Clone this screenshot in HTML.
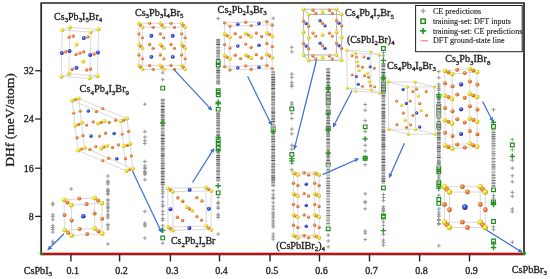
<!DOCTYPE html><html><head><meta charset="utf-8"><style>
html,body{margin:0;padding:0;background:#fff;width:550px;height:279px;overflow:hidden}
svg{display:block}
text{font-family:"Liberation Serif","Times New Roman",serif;fill:#1a1a1a;stroke:#1a1a1a;stroke-width:0.3px}
</style></head><body>
<svg width="550" height="279" viewBox="0 0 550 279">
<defs>
<radialGradient id="gy" cx="40%" cy="38%" r="62%"><stop offset="0" stop-color="#ffffd8"/><stop offset="0.4" stop-color="#f2e62a"/><stop offset="1" stop-color="#bcaa08"/></radialGradient>
<radialGradient id="go" cx="40%" cy="38%" r="62%"><stop offset="0" stop-color="#ffd6b0"/><stop offset="0.4" stop-color="#ee8438"/><stop offset="1" stop-color="#c05418"/></radialGradient>
<radialGradient id="gb" cx="40%" cy="38%" r="62%"><stop offset="0" stop-color="#b8d0ff"/><stop offset="0.4" stop-color="#3452e0"/><stop offset="1" stop-color="#182494"/></radialGradient>
<marker id="ah" viewBox="0 0 10 10" refX="9" refY="5" markerWidth="3.6" markerHeight="3.6" orient="auto-start-reverse"><path d="M0,0 L10,5 L0,10 z" fill="#3b6fd6"/></marker>
</defs>
<rect width="550" height="279" fill="#fff"/>
<path d="M160.85 86.25h3.7v3.7h-3.7zM160.85 236.05h3.7v3.7h-3.7zM216.35 60.65h3.7v3.7h-3.7zM216.35 63.05h3.7v3.7h-3.7zM216.35 88.85h3.7v3.7h-3.7zM216.35 90.45h3.7v3.7h-3.7zM216.35 92.95h3.7v3.7h-3.7zM216.35 107.45h3.7v3.7h-3.7zM216.35 138.95h3.7v3.7h-3.7zM216.35 141.45h3.7v3.7h-3.7zM216.35 146.15h3.7v3.7h-3.7zM216.35 190.95h3.7v3.7h-3.7zM271.35 126.45h3.7v3.7h-3.7zM289.95 107.05h3.7v3.7h-3.7zM289.95 152.55h3.7v3.7h-3.7zM326.35 92.85h3.7v3.7h-3.7zM326.35 95.25h3.7v3.7h-3.7zM326.35 97.65h3.7v3.7h-3.7zM326.35 100.95h3.7v3.7h-3.7zM326.35 109.85h3.7v3.7h-3.7zM326.35 125.95h3.7v3.7h-3.7zM326.35 162.75h3.7v3.7h-3.7zM326.35 226.95h3.7v3.7h-3.7zM363.35 124.95h3.7v3.7h-3.7zM363.35 156.35h3.7v3.7h-3.7zM381.55 46.65h3.7v3.7h-3.7zM381.55 81.05h3.7v3.7h-3.7zM381.55 84.25h3.7v3.7h-3.7zM381.55 88.75h3.7v3.7h-3.7zM381.55 185.95h3.7v3.7h-3.7zM381.55 214.05h3.7v3.7h-3.7zM381.55 215.25h3.7v3.7h-3.7zM436.95 104.65h3.7v3.7h-3.7zM436.95 108.65h3.7v3.7h-3.7zM436.95 113.45h3.7v3.7h-3.7zM436.95 123.15h3.7v3.7h-3.7zM436.95 124.75h3.7v3.7h-3.7zM436.95 166.35h3.7v3.7h-3.7zM436.95 167.95h3.7v3.7h-3.7zM436.95 169.65h3.7v3.7h-3.7zM436.95 180.85h3.7v3.7h-3.7zM436.95 182.95h3.7v3.7h-3.7zM436.95 197.55h3.7v3.7h-3.7zM436.95 201.55h3.7v3.7h-3.7zM491.65 124.65h3.7v3.7h-3.7zM491.65 187.95h3.7v3.7h-3.7zM491.65 199.95h3.7v3.7h-3.7zM491.65 219.65h3.7v3.7h-3.7zM491.65 239.05h3.7v3.7h-3.7zM510.45 143.15h3.7v3.7h-3.7z" stroke="#1f8a1f" stroke-width="1.15" fill="none"/>
<path d="M161 98.8h3.4v87.2h-3.4zM216.5 38.8h3.4v22.2h-3.4zM216.5 67h3.4v18h-3.4zM216.5 111h3.4v27h-3.4zM216.5 151h3.4v31h-3.4zM271.5 71h3.4v116h-3.4zM326.5 67.9h3.4v98.1h-3.4zM381.7 62.9h3.4v121.1h-3.4zM437.1 97h3.4v70h-3.4z" fill="#c2c2c2"/>
<path d="M326.5 166h3.4v60h-3.4zM491.8 128.7h3.4v58.3h-3.4z" fill="#dadada"/>
<path d="M160.7 99.8h4M160.7 153.8h4M160.7 163.34h4M160.7 173.6h4M160.7 176.35h4M160.7 179.46h4M216.2 39.8h4M216.2 50.83h4M216.2 53.24h4M216.2 68h4M216.2 72.56h4M216.2 81.24h4M216.2 116.2h4M216.2 125.22h4M216.2 131.97h4M216.2 135.04h4M216.2 163.64h4M271.2 99.86h4M271.2 111.01h4M271.2 116.12h4M271.2 136.31h4M271.2 164.1h4M271.2 169.8h4M271.2 172.4h4M271.2 175.92h4M326.2 72.34h4M326.2 87.56h4M326.2 110.63h4M326.2 133.95h4M326.2 142.96h4M326.2 169.74h4M326.2 178.17h4M326.2 181.23h4M326.2 185.58h4M326.2 188.19h4M326.2 191.1h4M326.2 215.67h4M381.4 63.9h4M381.4 113.9h4M381.4 121.34h4M381.4 130.01h4M381.4 143.01h4M381.4 149.49h4M381.4 156.55h4M381.4 170.14h4M381.4 176.24h4M436.8 121.64h4M436.8 129.63h4M436.8 135.02h4M436.8 142.91h4M436.8 145.79h4M436.8 151.56h4M436.8 161.01h4M491.5 134.6h4M491.5 136.71h4M491.5 138.88h4M491.5 161.73h4M491.5 166.83h4M491.5 175.14h4M491.5 180.48h4M491.5 183.03h4M491.5 185.93h4" stroke="#777" stroke-width="1.2" fill="none"/>
<path d="M160.7 103.31h4M160.7 117.32h4M160.7 121.84h4M160.7 165.97h4M160.7 184.37h4M216.2 41.87h4M216.2 75.53h4M216.2 77.84h4M216.2 83.08h4M216.2 120.75h4M216.2 122.7h4M216.2 128.61h4M216.2 152h4M216.2 165.45h4M271.2 72h4M271.2 74.51h4M271.2 102.74h4M271.2 104.76h4M271.2 108.35h4M271.2 152.79h4M271.2 158.08h4M271.2 182.48h4M326.2 68.9h4M326.2 89.51h4M326.2 100.91h4M326.2 136.22h4M326.2 193.63h4M326.2 201.68h4M326.2 207.63h4M326.2 210.64h4M326.2 223.5h4M381.4 75.16h4M381.4 79.34h4M381.4 82.93h4M381.4 93.29h4M381.4 153.08h4M436.8 111.81h4M436.8 118.1h4M436.8 139.55h4M436.8 149.76h4M436.8 165.01h4M491.5 132.3h4M491.5 143.72h4M491.5 145.82h4M491.5 153.71h4M491.5 158.64h4M491.5 164.72h4M491.5 177.89h4" stroke="#888" stroke-width="1.2" fill="none"/>
<path d="M160.7 106.28h4M160.7 109.56h4M160.7 112.01h4M160.7 135.06h4M160.7 138.62h4M160.7 155.78h4M160.7 182.36h4M216.2 44.43h4M216.2 59.35h4M216.2 70.65h4M216.2 114.01h4M216.2 177.58h4M271.2 77.45h4M271.2 82.19h4M271.2 84.6h4M271.2 88.66h4M271.2 112.97h4M271.2 133.25h4M271.2 160.52h4M271.2 177.87h4M326.2 75.58h4M326.2 78.88h4M326.2 92.15h4M326.2 98.84h4M326.2 114.75h4M326.2 117.98h4M326.2 139.52h4M326.2 156.98h4M381.4 72.64h4M381.4 87.79h4M381.4 90.89h4M381.4 95.89h4M381.4 104.83h4M381.4 111.95h4M381.4 131.97h4M381.4 137.78h4M381.4 140.06h4M381.4 146.88h4M381.4 159.47h4M381.4 181.13h4M436.8 98h4M436.8 108.83h4M436.8 137.59h4M436.8 157.48h4" stroke="#555" stroke-width="1.2" fill="none"/>
<path d="M160.7 115.45h4M160.7 119.87h4M160.7 125.76h4M160.7 141.42h4M160.7 143.74h4M160.7 148.87h4M160.7 168.42h4M160.7 171.65h4M216.2 118.24h4M216.2 155.52h4M216.2 157.47h4M216.2 159.69h4M216.2 171.03h4M271.2 79.59h4M271.2 94.01h4M271.2 96.92h4M271.2 118.78h4M271.2 121.51h4M271.2 139.04h4M271.2 141.48h4M271.2 146.63h4M271.2 149.54h4M271.2 155.92h4M271.2 166.75h4M271.2 180.07h4M326.2 82.32h4M326.2 84.98h4M326.2 95.25h4M326.2 104.16h4M326.2 120.73h4M326.2 123.31h4M326.2 126.6h4M326.2 128.45h4M326.2 130.78h4M326.2 154.23h4M326.2 160.35h4M326.2 163.24h4M381.4 65.96h4M381.4 69.5h4M381.4 77.25h4M381.4 85.34h4M381.4 108.4h4M381.4 115.78h4M381.4 118.06h4M381.4 135.21h4M381.4 144.96h4M381.4 162.22h4M381.4 165.71h4M381.4 167.98h4M381.4 178.84h4M436.8 102.62h4M436.8 105.35h4M436.8 124.68h4M436.8 127.1h4M436.8 133.19h4M436.8 147.67h4M436.8 163.21h4" stroke="#666" stroke-width="1.2" fill="none"/>
<path d="M160.7 123.74h4M160.7 128.7h4M160.7 132.21h4M160.7 146.51h4M160.7 150.85h4M160.7 158.6h4M160.7 160.77h4M216.2 47.61h4M216.2 56.11h4M216.2 112h4M216.2 161.51h4M216.2 168.21h4M216.2 174.07h4M216.2 180.21h4M271.2 86.58h4M271.2 92.16h4M271.2 125.02h4M271.2 127.47h4M271.2 130.92h4M271.2 144.24h4M271.2 185.41h4M326.2 107.06h4M326.2 112.71h4M326.2 146.37h4M326.2 149.64h4M326.2 152.2h4M326.2 172.41h4M326.2 183.53h4M326.2 204.52h4M326.2 220.56h4M381.4 98.38h4M381.4 101.3h4M381.4 123.87h4M381.4 127.32h4M381.4 173.07h4M436.8 99.83h4M436.8 114.79h4M436.8 155.09h4M491.5 129.7h4M491.5 141.36h4M491.5 168.99h4" stroke="#999" stroke-width="1.2" fill="none"/>
<path d="M326.2 167h4M326.2 175.23h4M326.2 196.46h4M326.2 199.07h4M326.2 213.14h4M326.2 218.47h4M491.5 148.61h4M491.5 151.53h4M491.5 155.76h4M491.5 172.14h4" stroke="#aaa" stroke-width="1.2" fill="none"/>
<path d="M50.9 203.3h3.8M52.8 201.4v3.8M50.9 204.9h3.8M52.8 203v3.8M50.9 214.7h3.8M52.8 212.8v3.8M50.9 216.7h3.8M52.8 214.8v3.8M50.9 219.7h3.8M52.8 217.8v3.8M50.9 225.6h3.8M52.8 223.7v3.8M50.9 227.5h3.8M52.8 225.6v3.8M50.9 229.5h3.8M52.8 227.6v3.8M50.9 232.1h3.8M52.8 230.2v3.8M50.9 241.4h3.8M52.8 239.5v3.8M50.9 243.3h3.8M52.8 241.4v3.8M69.3 189h3.8M71.2 187.1v3.8M106 176h3.8M107.9 174.1v3.8M106 181.1h3.8M107.9 179.2v3.8M106 182.4h3.8M107.9 180.5v3.8M106 184h3.8M107.9 182.1v3.8M106 189.2h3.8M107.9 187.3v3.8M106 190.5h3.8M107.9 188.6v3.8M106 191.6h3.8M107.9 189.7v3.8M106 193.2h3.8M107.9 191.3v3.8M106 194.4h3.8M107.9 192.5v3.8M106 199.7h3.8M107.9 197.8v3.8M106 200.8h3.8M107.9 198.9v3.8M106 203.7h3.8M107.9 201.8v3.8M106 206.1h3.8M107.9 204.2v3.8M106 207.4h3.8M107.9 205.5v3.8M106 208.2h3.8M107.9 206.3v3.8M106 211.1h3.8M107.9 209.2v3.8M106 214.4h3.8M107.9 212.5v3.8M106 216h3.8M107.9 214.1v3.8M106 217.9h3.8M107.9 216v3.8M106 224.4h3.8M107.9 222.5v3.8M106 226h3.8M107.9 224.1v3.8M106 228.9h3.8M107.9 227v3.8M106 244h3.8M107.9 242.1v3.8M143 104.2h3.8M144.9 102.3v3.8M143 131.7h3.8M144.9 129.8v3.8M143 137h3.8M144.9 135.1v3.8M143 140.7h3.8M144.9 138.8v3.8M143 143.5h3.8M144.9 141.6v3.8M143 161.5h3.8M144.9 159.6v3.8M143 165.8h3.8M144.9 163.9v3.8M143 167.9h3.8M144.9 166v3.8M143 168.7h3.8M144.9 166.8v3.8M143 171.5h3.8M144.9 169.6v3.8M143 172.7h3.8M144.9 170.8v3.8M143 173.9h3.8M144.9 172v3.8M143 174.4h3.8M144.9 172.5v3.8M143 179.8h3.8M144.9 177.9v3.8M143 211.4h3.8M144.9 209.5v3.8M143 223.1h3.8M144.9 221.2v3.8M143 224.7h3.8M144.9 222.8v3.8M143 226h3.8M144.9 224.1v3.8M143 238.1h3.8M144.9 236.2v3.8M160.8 72.9h3.8M162.7 71v3.8M160.8 79.7h3.8M162.7 77.8v3.8M160.8 187.3h3.8M162.7 185.4v3.8M160.8 189.7h3.8M162.7 187.8v3.8M160.8 191.8h3.8M162.7 189.9v3.8M160.8 193.7h3.8M162.7 191.8v3.8M160.8 197h3.8M162.7 195.1v3.8M160.8 201.6h3.8M162.7 199.7v3.8M160.8 204.8h3.8M162.7 202.9v3.8M160.8 206.5h3.8M162.7 204.6v3.8M160.8 211.3h3.8M162.7 209.4v3.8M160.8 214.5h3.8M162.7 212.6v3.8M160.8 218.5h3.8M162.7 216.6v3.8M160.8 220.2h3.8M162.7 218.3v3.8M160.8 225.8h3.8M162.7 223.9v3.8M160.8 243.2h3.8M162.7 241.3v3.8M216.3 18.4h3.8M218.2 16.5v3.8M216.3 197.4h3.8M218.2 195.5v3.8M216.3 202.2h3.8M218.2 200.3v3.8M216.3 203.5h3.8M218.2 201.6v3.8M216.3 207h3.8M218.2 205.1v3.8M216.3 208.6h3.8M218.2 206.7v3.8M216.3 214.3h3.8M218.2 212.4v3.8M216.3 215.9h3.8M218.2 214v3.8M216.3 217.5h3.8M218.2 215.6v3.8M216.3 234.1h3.8M218.2 232.2v3.8M271.3 18.3h3.8M273.2 16.4v3.8M271.3 190.6h3.8M273.2 188.7v3.8M271.3 194.7h3.8M273.2 192.8v3.8M271.3 197.4h3.8M273.2 195.5v3.8M271.3 198.7h3.8M273.2 196.8v3.8M271.3 202.7h3.8M273.2 200.8v3.8M271.3 206.3h3.8M273.2 204.4v3.8M271.3 209h3.8M273.2 207.1v3.8M271.3 212.5h3.8M273.2 210.6v3.8M271.3 214.3h3.8M273.2 212.4v3.8M271.3 216.1h3.8M273.2 214.2v3.8M271.3 217.9h3.8M273.2 216v3.8M271.3 220.6h3.8M273.2 218.7v3.8M271.3 222.9h3.8M273.2 221v3.8M271.3 225.1h3.8M273.2 223.2v3.8M271.3 226.9h3.8M273.2 225v3.8M271.3 234h3.8M273.2 232.1v3.8M271.3 236.7h3.8M273.2 234.8v3.8M271.3 239.1h3.8M273.2 237.2v3.8M289.9 47.3h3.8M291.8 45.4v3.8M289.9 51.8h3.8M291.8 49.9v3.8M289.9 74h3.8M291.8 72.1v3.8M289.9 77.4h3.8M291.8 75.5v3.8M289.9 82.3h3.8M291.8 80.4v3.8M289.9 85h3.8M291.8 83.1v3.8M289.9 86.6h3.8M291.8 84.7v3.8M289.9 102.7h3.8M291.8 100.8v3.8M289.9 104.8h3.8M291.8 102.9v3.8M289.9 113.4h3.8M291.8 111.5v3.8M289.9 118.5h3.8M291.8 116.6v3.8M289.9 129.1h3.8M291.8 127.2v3.8M289.9 133.9h3.8M291.8 132v3.8M289.9 145.2h3.8M291.8 143.3v3.8M289.9 149.3h3.8M291.8 147.4v3.8M289.9 163.5h3.8M291.8 161.6v3.8M289.9 169.7h3.8M291.8 167.8v3.8M326.3 235.1h3.8M328.2 233.2v3.8M326.3 241h3.8M328.2 239.1v3.8M326.3 246.8h3.8M328.2 244.9v3.8M363.3 104.5h3.8M365.2 102.6v3.8M363.3 110.2h3.8M365.2 108.3v3.8M363.3 120.6h3.8M365.2 118.7v3.8M363.3 131.6h3.8M365.2 129.7v3.8M363.3 145.3h3.8M365.2 143.4v3.8M363.3 151h3.8M365.2 149.1v3.8M363.3 164.7h3.8M365.2 162.8v3.8M363.3 193.8h3.8M365.2 191.9v3.8M363.3 201.8h3.8M365.2 199.9v3.8M363.3 202.6h3.8M365.2 200.7v3.8M363.3 208.8h3.8M365.2 206.9v3.8M363.3 231.1h3.8M365.2 229.2v3.8M363.3 233.3h3.8M365.2 231.4v3.8M363.3 239.6h3.8M365.2 237.7v3.8M381.5 52.6h3.8M383.4 50.7v3.8M381.5 55.8h3.8M383.4 53.9v3.8M381.5 194.6h3.8M383.4 192.7v3.8M381.5 197.5h3.8M383.4 195.6v3.8M381.5 200.7h3.8M383.4 198.8v3.8M381.5 206.7h3.8M383.4 204.8v3.8M381.5 208.3h3.8M383.4 206.4v3.8M381.5 209.2h3.8M383.4 207.3v3.8M381.5 210.7h3.8M383.4 208.8v3.8M381.5 211.4h3.8M383.4 209.5v3.8M381.5 221.9h3.8M383.4 220v3.8M381.5 225.6h3.8M383.4 223.7v3.8M381.5 234.5h3.8M383.4 232.6v3.8M381.5 240.1h3.8M383.4 238.2v3.8M381.5 242.4h3.8M383.4 240.5v3.8M381.5 245.1h3.8M383.4 243.2v3.8M436.9 71.6h3.8M438.8 69.7v3.8M436.9 77.7h3.8M438.8 75.8v3.8M436.9 84.2h3.8M438.8 82.3v3.8M436.9 86.6h3.8M438.8 84.7v3.8M436.9 88.7h3.8M438.8 86.8v3.8M436.9 90.3h3.8M438.8 88.4v3.8M436.9 175h3.8M438.8 173.1v3.8M436.9 177h3.8M438.8 175.1v3.8M436.9 179h3.8M438.8 177.1v3.8M436.9 195.3h3.8M438.8 193.4v3.8M436.9 209h3.8M438.8 207.1v3.8M436.9 212.3h3.8M438.8 210.4v3.8M436.9 214.7h3.8M438.8 212.8v3.8M436.9 216.3h3.8M438.8 214.4v3.8M436.9 219.5h3.8M438.8 217.6v3.8M436.9 220.3h3.8M438.8 218.4v3.8M436.9 223.5h3.8M438.8 221.6v3.8M436.9 224.3h3.8M438.8 222.4v3.8M436.9 245.7h3.8M438.8 243.8v3.8M491.6 109.7h3.8M493.5 107.8v3.8M491.6 195.5h3.8M493.5 193.6v3.8M491.6 197.9h3.8M493.5 196v3.8M491.6 226.9h3.8M493.5 225v3.8M491.6 229.6h3.8M493.5 227.7v3.8M510.4 139.4h3.8M512.3 137.5v3.8M510.4 149.8h3.8M512.3 147.9v3.8M510.4 160.3h3.8M512.3 158.4v3.8M510.4 168.1h3.8M512.3 166.2v3.8M510.4 175.8h3.8M512.3 173.9v3.8M510.4 181.8h3.8M512.3 179.9v3.8M510.4 192.3h3.8M512.3 190.4v3.8M510.4 196.3h3.8M512.3 194.4v3.8M510.4 209h3.8M512.3 207.1v3.8M510.4 211.6h3.8M512.3 209.7v3.8M510.4 242.1h3.8M512.3 240.2v3.8" stroke="#959595" stroke-width="0.95" fill="none"/>
<path d="M69.8 27.4L98.5 29.3M62.2 30.1L90.9 32M69.8 27.4L62.2 30.1M98.5 29.3L97.5 75.9M90.9 32L89.9 78.6M98.5 29.3L90.9 32M97.5 75.9L68.9 73.7M89.9 78.6L61.3 76.4M97.5 75.9L89.9 78.6M68.9 73.7L69.8 27.4M61.3 76.4L62.2 30.1M68.9 73.7L61.3 76.4M72.1 100.4L120.8 121M78.6 98.5L127 118.6M72.1 100.4L78.6 98.5M120.8 121L127 118.6M78.1 150.6L126.5 171.1M84.5 147.7L132.9 168.7M78.1 150.6L84.5 147.7M126.5 171.1L132.9 168.7M72.1 100.4L78.1 150.6M78.6 98.5L84.5 147.7M120.8 121L126.5 171.1M127 118.6L132.9 168.7M138.9 23.3L181.6 23.3M142.4 27.2L185.1 27.2M138.9 23.3L142.4 27.2M181.6 23.3L181.6 65.4M185.1 27.2L185.1 69.3M181.6 23.3L185.1 27.2M181.6 65.4L138.9 65.4M185.1 69.3L142.4 69.3M181.6 65.4L185.1 69.3M138.9 65.4L138.9 23.3M142.4 69.3L142.4 27.2M138.9 65.4L142.4 69.3M224.5 22.8L266.8 21.62M229.9 26.1L272.2 24.92M224.5 22.8L229.9 26.1M266.8 21.62L266.8 65.32M272.2 24.92L272.2 68.62M266.8 21.62L272.2 24.92M266.8 65.32L224.5 66.5M272.2 68.62L229.9 69.8M266.8 65.32L272.2 68.62M224.5 66.5L224.5 22.8M229.9 69.8L229.9 26.1M224.5 66.5L229.9 69.8M346.8 50.2L370.6 51.8M347.2 88L371.2 89.9M346.8 50.2L347.2 88M370.6 51.8L379.3 54.8M371.2 89.9L379.6 93M370.6 51.8L371.2 89.9M379.3 54.8L355.6 53.2M379.6 93L355.8 91M379.3 54.8L379.6 93M355.6 53.2L346.8 50.2M355.8 91L347.2 88M355.6 53.2L355.8 91M388.1 81.9L415 81.9M388.8 129.3L415.6 129.3M388.1 81.9L388.8 129.3M415 81.9L434.3 86.8M415.6 129.3L435.1 134.1M415 81.9L415.6 129.3M434.3 86.8L407.4 87M435.1 134.1L408.3 134.3M434.3 86.8L435.1 134.1M407.4 87L388.1 81.9M408.3 134.3L388.8 129.3M407.4 87L408.3 134.3M444.8 70.7L469.6 68.8M452.1 73.9L476.9 72M444.8 70.7L452.1 73.9M469.6 68.8L469.9 143.6M476.9 72L477.2 146.8M469.6 68.8L476.9 72M469.9 143.6L445.2 145.4M477.2 146.8L452.5 148.6M469.9 143.6L477.2 146.8M445.2 145.4L444.8 70.7M452.5 148.6L452.1 73.9M445.2 145.4L452.5 148.6M444.5 186.7L480.3 186.7M449.5 192L485.3 192M444.5 186.7L449.5 192M480.3 186.7L480.3 222.2M485.3 192L485.3 227.5M480.3 186.7L485.3 192M480.3 222.2L444.5 222.2M485.3 227.5L449.5 227.5M480.3 222.2L485.3 227.5M444.5 222.2L444.5 186.7M449.5 227.5L449.5 192M444.5 222.2L449.5 227.5M64 199.8L94.6 197.9M71.3 205.1L101.9 203.2M64 199.8L71.3 205.1M94.6 197.9L94.6 228.5M101.9 203.2L101.9 233.8M94.6 197.9L101.9 203.2M94.6 228.5L64.5 230.1M101.9 233.8L71.8 235.4M94.6 228.5L101.9 233.8M64.5 230.1L64 199.8M71.8 235.4L71.3 205.1M64.5 230.1L71.8 235.4M167.8 188.3L205.9 187.5M172.8 191.7L210.9 190.9M167.8 188.3L172.8 191.7M205.9 187.5L206.2 225.9M210.9 190.9L211.2 229.3M205.9 187.5L210.9 190.9M206.2 225.9L168 227M211.2 229.3L173 230.4M206.2 225.9L211.2 229.3M168 227L167.8 188.3M173 230.4L172.8 191.7M168 227L173 230.4M293.4 172.7L314.7 172.7M297.8 174.9L319.1 174.9M293.4 172.7L297.8 174.9M314.7 172.7L314.7 235.5M319.1 174.9L319.1 237.7M314.7 172.7L319.1 174.9M314.7 235.5L293.4 235.5M319.1 237.7L297.8 237.7M314.7 235.5L319.1 237.7M293.4 235.5L293.4 172.7M297.8 237.7L297.8 174.9M293.4 235.5L297.8 237.7" stroke="#cfcfcf" stroke-width="0.8" fill="none"/>
<path d="M303.5 9.2L336.5 9.2M308.7 14.5L341.7 14.5M303.5 9.2L308.7 14.5M336.5 9.2L336.4 55M341.7 14.5L341.6 60.3M336.5 9.2L341.7 14.5M336.4 55L303.3 55M341.6 60.3L308.5 60.3M336.4 55L341.6 60.3M303.3 55L303.5 9.2M308.5 60.3L308.7 14.5M303.3 55L308.5 60.3" stroke="#a2a2a2" stroke-width="0.8" fill="none"/>
<circle cx="62.2" cy="30.1" r="2" fill="url(#gy)"/>
<circle cx="69.8" cy="27.4" r="2" fill="url(#gy)"/>
<circle cx="90.7" cy="31.9" r="2" fill="url(#gy)"/>
<circle cx="98.5" cy="29.3" r="2" fill="url(#gy)"/>
<circle cx="69.1" cy="37.1" r="1.7" fill="url(#go)"/>
<circle cx="73.2" cy="36" r="1.7" fill="url(#go)"/>
<circle cx="83.8" cy="38.1" r="2" fill="url(#gb)"/>
<circle cx="87.8" cy="36.9" r="1.7" fill="url(#go)"/>
<circle cx="76.5" cy="44.6" r="2" fill="url(#gy)"/>
<circle cx="61.8" cy="53.1" r="2" fill="url(#gb)"/>
<circle cx="65.7" cy="51.8" r="1.7" fill="url(#go)"/>
<circle cx="69.5" cy="50.9" r="2" fill="url(#gb)"/>
<circle cx="76" cy="54.4" r="1.7" fill="url(#go)"/>
<circle cx="79.9" cy="53.1" r="1.7" fill="url(#go)"/>
<circle cx="83.7" cy="51.8" r="1.7" fill="url(#go)"/>
<circle cx="90.2" cy="55" r="2" fill="url(#gb)"/>
<circle cx="94.1" cy="54" r="1.7" fill="url(#go)"/>
<circle cx="97.9" cy="52.5" r="2" fill="url(#gb)"/>
<circle cx="83.1" cy="61.5" r="2" fill="url(#gy)"/>
<circle cx="72.1" cy="69.2" r="1.7" fill="url(#go)"/>
<circle cx="76.4" cy="67.7" r="2" fill="url(#gb)"/>
<circle cx="86.7" cy="69.9" r="1.7" fill="url(#go)"/>
<circle cx="90.6" cy="69" r="1.7" fill="url(#go)"/>
<circle cx="61.4" cy="76.7" r="2" fill="url(#gy)"/>
<circle cx="68.9" cy="73.7" r="2" fill="url(#gy)"/>
<circle cx="89.8" cy="78" r="2" fill="url(#gy)"/>
<circle cx="97.5" cy="75.9" r="2" fill="url(#gy)"/>
<circle cx="72.1" cy="100.4" r="2" fill="url(#gy)"/>
<circle cx="75.7" cy="99.3" r="1.6" fill="url(#go)"/>
<circle cx="78.6" cy="98.5" r="2" fill="url(#gy)"/>
<circle cx="120.8" cy="121" r="2" fill="url(#gy)"/>
<circle cx="127" cy="118.6" r="2" fill="url(#gy)"/>
<circle cx="75.4" cy="125.5" r="2" fill="url(#gy)"/>
<circle cx="81.8" cy="122.6" r="2" fill="url(#gy)"/>
<circle cx="97.9" cy="123.5" r="2" fill="url(#gy)"/>
<circle cx="104.4" cy="121" r="2" fill="url(#gy)"/>
<circle cx="73.7" cy="113" r="1.6" fill="url(#go)"/>
<circle cx="80.2" cy="111" r="1.6" fill="url(#go)"/>
<circle cx="96.3" cy="111.4" r="1.6" fill="url(#go)"/>
<circle cx="102.8" cy="108.5" r="1.6" fill="url(#go)"/>
<circle cx="78.6" cy="124.3" r="1.6" fill="url(#go)"/>
<circle cx="86.6" cy="125" r="1.6" fill="url(#go)"/>
<circle cx="93.1" cy="121.8" r="1.6" fill="url(#go)"/>
<circle cx="101.2" cy="122.3" r="1.6" fill="url(#go)"/>
<circle cx="109.2" cy="122.3" r="1.6" fill="url(#go)"/>
<circle cx="115.7" cy="120.2" r="1.6" fill="url(#go)"/>
<circle cx="123.7" cy="120.2" r="1.6" fill="url(#go)"/>
<circle cx="88.3" cy="111" r="1.8" fill="url(#gb)"/>
<circle cx="77" cy="137.7" r="1.6" fill="url(#go)"/>
<circle cx="83" cy="135.6" r="1.6" fill="url(#go)"/>
<circle cx="99.5" cy="136.1" r="1.6" fill="url(#go)"/>
<circle cx="105.5" cy="133.2" r="1.6" fill="url(#go)"/>
<circle cx="122.1" cy="134" r="1.6" fill="url(#go)"/>
<circle cx="128.6" cy="131.3" r="1.6" fill="url(#go)"/>
<circle cx="91" cy="136.1" r="1.8" fill="url(#gb)"/>
<circle cx="114.1" cy="133.5" r="1.8" fill="url(#gb)"/>
<circle cx="81.3" cy="149" r="1.6" fill="url(#go)"/>
<circle cx="89.9" cy="149.4" r="1.6" fill="url(#go)"/>
<circle cx="95.8" cy="146.6" r="1.6" fill="url(#go)"/>
<circle cx="103.9" cy="146.9" r="1.6" fill="url(#go)"/>
<circle cx="112.5" cy="147.4" r="1.6" fill="url(#go)"/>
<circle cx="118.4" cy="144.8" r="1.6" fill="url(#go)"/>
<circle cx="127.3" cy="145.3" r="1.6" fill="url(#go)"/>
<circle cx="78.1" cy="150.6" r="2" fill="url(#gy)"/>
<circle cx="84.5" cy="147.7" r="2" fill="url(#gy)"/>
<circle cx="101.2" cy="148.5" r="2" fill="url(#gy)"/>
<circle cx="107.1" cy="145.8" r="2" fill="url(#gy)"/>
<circle cx="123.7" cy="146.1" r="2" fill="url(#gy)"/>
<circle cx="130.2" cy="143.7" r="2" fill="url(#gy)"/>
<circle cx="102.8" cy="160.6" r="1.6" fill="url(#go)"/>
<circle cx="108.7" cy="158.2" r="1.6" fill="url(#go)"/>
<circle cx="125.4" cy="158.7" r="1.6" fill="url(#go)"/>
<circle cx="131.3" cy="155.8" r="1.6" fill="url(#go)"/>
<circle cx="129.7" cy="169.5" r="1.6" fill="url(#go)"/>
<circle cx="116.8" cy="158.7" r="1.8" fill="url(#gb)"/>
<circle cx="126.5" cy="171.1" r="2" fill="url(#gy)"/>
<circle cx="132.9" cy="168.7" r="2" fill="url(#gy)"/>
<circle cx="138.9" cy="23.3" r="1.8" fill="url(#gy)"/>
<circle cx="140.65" cy="25.25" r="1.55" fill="url(#go)"/>
<circle cx="142.4" cy="27.2" r="1.8" fill="url(#gy)"/>
<circle cx="149.6" cy="23.3" r="1.55" fill="url(#go)"/>
<circle cx="153.1" cy="27.2" r="1.55" fill="url(#go)"/>
<circle cx="138.9" cy="33.85" r="1.55" fill="url(#go)"/>
<circle cx="142.4" cy="37.75" r="1.55" fill="url(#go)"/>
<circle cx="151.35" cy="35.8" r="1.95" fill="url(#gb)"/>
<circle cx="160.3" cy="23.3" r="1.8" fill="url(#gy)"/>
<circle cx="162.05" cy="25.25" r="1.55" fill="url(#go)"/>
<circle cx="163.8" cy="27.2" r="1.8" fill="url(#gy)"/>
<circle cx="170.95" cy="23.3" r="1.55" fill="url(#go)"/>
<circle cx="174.45" cy="27.2" r="1.55" fill="url(#go)"/>
<circle cx="160.3" cy="33.85" r="1.55" fill="url(#go)"/>
<circle cx="163.8" cy="37.75" r="1.55" fill="url(#go)"/>
<circle cx="172.7" cy="35.8" r="1.95" fill="url(#gb)"/>
<circle cx="181.6" cy="23.3" r="1.8" fill="url(#gy)"/>
<circle cx="183.35" cy="25.25" r="1.55" fill="url(#go)"/>
<circle cx="185.1" cy="27.2" r="1.8" fill="url(#gy)"/>
<circle cx="181.6" cy="33.85" r="1.55" fill="url(#go)"/>
<circle cx="185.1" cy="37.75" r="1.55" fill="url(#go)"/>
<circle cx="138.9" cy="44.4" r="1.8" fill="url(#gy)"/>
<circle cx="140.65" cy="46.35" r="1.55" fill="url(#go)"/>
<circle cx="142.4" cy="48.3" r="1.8" fill="url(#gy)"/>
<circle cx="149.6" cy="44.4" r="1.55" fill="url(#go)"/>
<circle cx="153.1" cy="48.3" r="1.55" fill="url(#go)"/>
<circle cx="138.9" cy="54.9" r="1.55" fill="url(#go)"/>
<circle cx="142.4" cy="58.8" r="1.55" fill="url(#go)"/>
<circle cx="151.35" cy="56.85" r="1.95" fill="url(#gb)"/>
<circle cx="160.3" cy="44.4" r="1.8" fill="url(#gy)"/>
<circle cx="162.05" cy="46.35" r="1.55" fill="url(#go)"/>
<circle cx="163.8" cy="48.3" r="1.8" fill="url(#gy)"/>
<circle cx="170.95" cy="44.4" r="1.55" fill="url(#go)"/>
<circle cx="174.45" cy="48.3" r="1.55" fill="url(#go)"/>
<circle cx="160.3" cy="54.9" r="1.55" fill="url(#go)"/>
<circle cx="163.8" cy="58.8" r="1.55" fill="url(#go)"/>
<circle cx="172.7" cy="56.85" r="1.95" fill="url(#gb)"/>
<circle cx="181.6" cy="44.4" r="1.8" fill="url(#gy)"/>
<circle cx="183.35" cy="46.35" r="1.55" fill="url(#go)"/>
<circle cx="185.1" cy="48.3" r="1.8" fill="url(#gy)"/>
<circle cx="181.6" cy="54.9" r="1.55" fill="url(#go)"/>
<circle cx="185.1" cy="58.8" r="1.55" fill="url(#go)"/>
<circle cx="138.9" cy="65.4" r="1.8" fill="url(#gy)"/>
<circle cx="140.65" cy="67.35" r="1.55" fill="url(#go)"/>
<circle cx="142.4" cy="69.3" r="1.8" fill="url(#gy)"/>
<circle cx="149.6" cy="65.4" r="1.55" fill="url(#go)"/>
<circle cx="153.1" cy="69.3" r="1.55" fill="url(#go)"/>
<circle cx="160.3" cy="65.4" r="1.8" fill="url(#gy)"/>
<circle cx="162.05" cy="67.35" r="1.55" fill="url(#go)"/>
<circle cx="163.8" cy="69.3" r="1.8" fill="url(#gy)"/>
<circle cx="170.95" cy="65.4" r="1.55" fill="url(#go)"/>
<circle cx="174.45" cy="69.3" r="1.55" fill="url(#go)"/>
<circle cx="181.6" cy="65.4" r="1.8" fill="url(#gy)"/>
<circle cx="183.35" cy="67.35" r="1.55" fill="url(#go)"/>
<circle cx="185.1" cy="69.3" r="1.8" fill="url(#gy)"/>
<circle cx="224.5" cy="22.8" r="1.6" fill="url(#go)"/>
<circle cx="229.9" cy="26.1" r="1.6" fill="url(#go)"/>
<circle cx="237.8" cy="24.15" r="1.75" fill="url(#gb)"/>
<circle cx="245.7" cy="22.21" r="1.6" fill="url(#go)"/>
<circle cx="251.1" cy="25.51" r="1.6" fill="url(#go)"/>
<circle cx="258.95" cy="23.56" r="1.75" fill="url(#gb)"/>
<circle cx="266.8" cy="21.62" r="1.6" fill="url(#go)"/>
<circle cx="272.2" cy="24.92" r="1.6" fill="url(#go)"/>
<circle cx="224.5" cy="34" r="1.9" fill="url(#gy)"/>
<circle cx="227.2" cy="35.65" r="1.6" fill="url(#go)"/>
<circle cx="229.9" cy="37.3" r="1.9" fill="url(#gy)"/>
<circle cx="235.1" cy="33.7" r="1.6" fill="url(#go)"/>
<circle cx="240.5" cy="37" r="1.6" fill="url(#go)"/>
<circle cx="245.7" cy="33.41" r="1.9" fill="url(#gy)"/>
<circle cx="248.4" cy="35.06" r="1.6" fill="url(#go)"/>
<circle cx="251.1" cy="36.71" r="1.9" fill="url(#gy)"/>
<circle cx="256.25" cy="33.11" r="1.6" fill="url(#go)"/>
<circle cx="261.65" cy="36.41" r="1.6" fill="url(#go)"/>
<circle cx="266.8" cy="32.82" r="1.9" fill="url(#gy)"/>
<circle cx="269.5" cy="34.47" r="1.6" fill="url(#go)"/>
<circle cx="272.2" cy="36.12" r="1.9" fill="url(#gy)"/>
<circle cx="224.5" cy="44.6" r="1.6" fill="url(#go)"/>
<circle cx="229.9" cy="47.9" r="1.6" fill="url(#go)"/>
<circle cx="237.8" cy="45.95" r="1.75" fill="url(#gb)"/>
<circle cx="245.7" cy="44.01" r="1.6" fill="url(#go)"/>
<circle cx="251.1" cy="47.31" r="1.6" fill="url(#go)"/>
<circle cx="258.95" cy="45.36" r="1.75" fill="url(#gb)"/>
<circle cx="266.8" cy="43.42" r="1.6" fill="url(#go)"/>
<circle cx="272.2" cy="46.72" r="1.6" fill="url(#go)"/>
<circle cx="224.5" cy="55.5" r="1.9" fill="url(#gy)"/>
<circle cx="227.2" cy="57.15" r="1.6" fill="url(#go)"/>
<circle cx="229.9" cy="58.8" r="1.9" fill="url(#gy)"/>
<circle cx="235.1" cy="55.2" r="1.6" fill="url(#go)"/>
<circle cx="240.5" cy="58.5" r="1.6" fill="url(#go)"/>
<circle cx="245.7" cy="54.91" r="1.9" fill="url(#gy)"/>
<circle cx="248.4" cy="56.56" r="1.6" fill="url(#go)"/>
<circle cx="251.1" cy="58.21" r="1.9" fill="url(#gy)"/>
<circle cx="256.25" cy="54.61" r="1.6" fill="url(#go)"/>
<circle cx="261.65" cy="57.91" r="1.6" fill="url(#go)"/>
<circle cx="266.8" cy="54.32" r="1.9" fill="url(#gy)"/>
<circle cx="269.5" cy="55.97" r="1.6" fill="url(#go)"/>
<circle cx="272.2" cy="57.62" r="1.9" fill="url(#gy)"/>
<circle cx="224.5" cy="66.5" r="1.6" fill="url(#go)"/>
<circle cx="229.9" cy="69.8" r="1.6" fill="url(#go)"/>
<circle cx="237.8" cy="67.85" r="1.75" fill="url(#gb)"/>
<circle cx="245.7" cy="65.91" r="1.6" fill="url(#go)"/>
<circle cx="251.1" cy="69.21" r="1.6" fill="url(#go)"/>
<circle cx="258.95" cy="67.26" r="1.75" fill="url(#gb)"/>
<circle cx="266.8" cy="65.32" r="1.6" fill="url(#go)"/>
<circle cx="272.2" cy="68.62" r="1.6" fill="url(#go)"/>
<circle cx="303.5" cy="9.3" r="1.9" fill="url(#gy)"/>
<circle cx="308.7" cy="14.6" r="1.9" fill="url(#gy)"/>
<circle cx="313" cy="10.2" r="1.6" fill="url(#go)"/>
<circle cx="315.8" cy="13.1" r="1.6" fill="url(#go)"/>
<circle cx="322.5" cy="12" r="1.9" fill="url(#gy)"/>
<circle cx="329.4" cy="10.2" r="1.6" fill="url(#go)"/>
<circle cx="332.2" cy="13.1" r="1.6" fill="url(#go)"/>
<circle cx="336.5" cy="9.3" r="1.9" fill="url(#gy)"/>
<circle cx="341.6" cy="14.4" r="1.9" fill="url(#gy)"/>
<circle cx="303.5" cy="20.9" r="1.6" fill="url(#go)"/>
<circle cx="306.1" cy="23.5" r="1.65" fill="url(#gb)"/>
<circle cx="308.6" cy="26.2" r="1.6" fill="url(#go)"/>
<circle cx="320" cy="20.7" r="1.65" fill="url(#gb)"/>
<circle cx="322.5" cy="23.2" r="1.6" fill="url(#go)"/>
<circle cx="325" cy="25.8" r="1.65" fill="url(#gb)"/>
<circle cx="336.5" cy="20.7" r="1.6" fill="url(#go)"/>
<circle cx="339" cy="23.2" r="1.65" fill="url(#gb)"/>
<circle cx="341.6" cy="25.8" r="1.6" fill="url(#go)"/>
<circle cx="303.5" cy="32.2" r="1.9" fill="url(#gy)"/>
<circle cx="308.7" cy="37.5" r="1.9" fill="url(#gy)"/>
<circle cx="313" cy="33.1" r="1.6" fill="url(#go)"/>
<circle cx="315.8" cy="36" r="1.6" fill="url(#go)"/>
<circle cx="322.5" cy="34.9" r="1.9" fill="url(#gy)"/>
<circle cx="329.4" cy="33.1" r="1.6" fill="url(#go)"/>
<circle cx="332.2" cy="36" r="1.6" fill="url(#go)"/>
<circle cx="336.5" cy="32.2" r="1.9" fill="url(#gy)"/>
<circle cx="341.6" cy="37.3" r="1.9" fill="url(#gy)"/>
<circle cx="303.5" cy="43.4" r="1.6" fill="url(#go)"/>
<circle cx="306.1" cy="46" r="1.65" fill="url(#gb)"/>
<circle cx="308.6" cy="48.7" r="1.6" fill="url(#go)"/>
<circle cx="320" cy="43.2" r="1.65" fill="url(#gb)"/>
<circle cx="322.5" cy="45.7" r="1.6" fill="url(#go)"/>
<circle cx="325" cy="48.3" r="1.65" fill="url(#gb)"/>
<circle cx="336.5" cy="43.2" r="1.6" fill="url(#go)"/>
<circle cx="339" cy="45.7" r="1.65" fill="url(#gb)"/>
<circle cx="341.6" cy="48.3" r="1.6" fill="url(#go)"/>
<circle cx="303.5" cy="55" r="1.9" fill="url(#gy)"/>
<circle cx="308.7" cy="60.3" r="1.9" fill="url(#gy)"/>
<circle cx="313" cy="55.9" r="1.6" fill="url(#go)"/>
<circle cx="315.8" cy="58.8" r="1.6" fill="url(#go)"/>
<circle cx="322.5" cy="57.7" r="1.9" fill="url(#gy)"/>
<circle cx="329.4" cy="55.9" r="1.6" fill="url(#go)"/>
<circle cx="332.2" cy="58.8" r="1.6" fill="url(#go)"/>
<circle cx="336.5" cy="55" r="1.9" fill="url(#gy)"/>
<circle cx="341.6" cy="60.1" r="1.9" fill="url(#gy)"/>
<circle cx="346.8" cy="50.2" r="1.6" fill="url(#gy)"/>
<circle cx="355.6" cy="53.2" r="1.6" fill="url(#gy)"/>
<circle cx="370.6" cy="51.8" r="1.6" fill="url(#gy)"/>
<circle cx="379.3" cy="54.8" r="1.6" fill="url(#gy)"/>
<circle cx="352" cy="55.8" r="1.45" fill="url(#go)"/>
<circle cx="356.6" cy="57.1" r="1.45" fill="url(#go)"/>
<circle cx="363.9" cy="56.9" r="1.45" fill="url(#go)"/>
<circle cx="368.3" cy="58.3" r="1.5" fill="url(#gb)"/>
<circle cx="357.1" cy="61.6" r="1.6" fill="url(#gy)"/>
<circle cx="358.1" cy="66" r="1.45" fill="url(#go)"/>
<circle cx="362.5" cy="67.3" r="1.45" fill="url(#go)"/>
<circle cx="370.1" cy="66.8" r="1.5" fill="url(#gb)"/>
<circle cx="374.3" cy="68.2" r="1.45" fill="url(#go)"/>
<circle cx="359" cy="70.4" r="1.6" fill="url(#gy)"/>
<circle cx="367.5" cy="73.1" r="1.6" fill="url(#gy)"/>
<circle cx="352.1" cy="74.9" r="1.45" fill="url(#go)"/>
<circle cx="356.3" cy="76.6" r="1.5" fill="url(#gb)"/>
<circle cx="364.4" cy="75.7" r="1.45" fill="url(#go)"/>
<circle cx="368.6" cy="77.2" r="1.45" fill="url(#go)"/>
<circle cx="369.3" cy="81.5" r="1.6" fill="url(#gy)"/>
<circle cx="358.3" cy="84.3" r="1.5" fill="url(#gb)"/>
<circle cx="362.4" cy="86.4" r="1.45" fill="url(#go)"/>
<circle cx="370.4" cy="85.7" r="1.45" fill="url(#go)"/>
<circle cx="374.7" cy="86.9" r="1.45" fill="url(#go)"/>
<circle cx="347.2" cy="88" r="1.6" fill="url(#gy)"/>
<circle cx="355.8" cy="91" r="1.6" fill="url(#gy)"/>
<circle cx="371.2" cy="89.9" r="1.6" fill="url(#gy)"/>
<circle cx="379.6" cy="93" r="1.6" fill="url(#gy)"/>
<circle cx="388.1" cy="81.9" r="1.65" fill="url(#gy)"/>
<circle cx="415" cy="81.9" r="1.65" fill="url(#gy)"/>
<circle cx="407.4" cy="87" r="1.65" fill="url(#gy)"/>
<circle cx="434.3" cy="86.8" r="1.65" fill="url(#gy)"/>
<circle cx="403.1" cy="89.4" r="1.65" fill="url(#gb)"/>
<circle cx="412.8" cy="91.6" r="1.5" fill="url(#go)"/>
<circle cx="416.5" cy="89.1" r="1.5" fill="url(#go)"/>
<circle cx="426.2" cy="91.6" r="1.5" fill="url(#go)"/>
<circle cx="418.2" cy="95.9" r="1.65" fill="url(#gy)"/>
<circle cx="396.6" cy="101" r="1.5" fill="url(#go)"/>
<circle cx="410.1" cy="101" r="1.5" fill="url(#go)"/>
<circle cx="406.3" cy="103.4" r="1.65" fill="url(#gb)"/>
<circle cx="419.7" cy="103.4" r="1.5" fill="url(#go)"/>
<circle cx="401.7" cy="105.3" r="1.65" fill="url(#gy)"/>
<circle cx="421.1" cy="110.6" r="1.65" fill="url(#gy)"/>
<circle cx="403.3" cy="112.9" r="1.5" fill="url(#go)"/>
<circle cx="416.7" cy="112.9" r="1.65" fill="url(#gb)"/>
<circle cx="412.9" cy="115.3" r="1.5" fill="url(#go)"/>
<circle cx="426.5" cy="115.3" r="1.5" fill="url(#go)"/>
<circle cx="405.1" cy="120.2" r="1.65" fill="url(#gy)"/>
<circle cx="396.9" cy="124.5" r="1.5" fill="url(#go)"/>
<circle cx="410.6" cy="124.8" r="1.5" fill="url(#go)"/>
<circle cx="406.5" cy="127.2" r="1.5" fill="url(#go)"/>
<circle cx="419.7" cy="127" r="1.65" fill="url(#gb)"/>
<circle cx="388.8" cy="129.3" r="1.65" fill="url(#gy)"/>
<circle cx="415.6" cy="129.3" r="1.65" fill="url(#gy)"/>
<circle cx="408.3" cy="134.3" r="1.65" fill="url(#gy)"/>
<circle cx="435.1" cy="134.1" r="1.65" fill="url(#gy)"/>
<circle cx="444.8" cy="70.7" r="2.25" fill="url(#gy)"/>
<circle cx="448.5" cy="72.2" r="2" fill="url(#go)"/>
<circle cx="452.1" cy="73.9" r="2.25" fill="url(#gy)"/>
<circle cx="457.2" cy="69.7" r="2" fill="url(#go)"/>
<circle cx="464.7" cy="72.9" r="2" fill="url(#go)"/>
<circle cx="469.7" cy="68.8" r="2.25" fill="url(#gy)"/>
<circle cx="473.4" cy="70.5" r="2" fill="url(#go)"/>
<circle cx="477.2" cy="72.1" r="2.25" fill="url(#gy)"/>
<circle cx="445" cy="83.2" r="2" fill="url(#go)"/>
<circle cx="452.5" cy="86.3" r="2" fill="url(#go)"/>
<circle cx="461.1" cy="84.4" r="2.1" fill="url(#gb)"/>
<circle cx="469.9" cy="81.4" r="2" fill="url(#go)"/>
<circle cx="477.4" cy="84.6" r="2" fill="url(#go)"/>
<circle cx="444.8" cy="95.6" r="2.25" fill="url(#gy)"/>
<circle cx="448.5" cy="97.1" r="2" fill="url(#go)"/>
<circle cx="452.1" cy="98.8" r="2.25" fill="url(#gy)"/>
<circle cx="457.2" cy="94.6" r="2" fill="url(#go)"/>
<circle cx="464.7" cy="97.8" r="2" fill="url(#go)"/>
<circle cx="469.7" cy="93.7" r="2.25" fill="url(#gy)"/>
<circle cx="473.4" cy="95.4" r="2" fill="url(#go)"/>
<circle cx="477.2" cy="97" r="2.25" fill="url(#gy)"/>
<circle cx="445" cy="108.1" r="2" fill="url(#go)"/>
<circle cx="452.5" cy="111.2" r="2" fill="url(#go)"/>
<circle cx="461.1" cy="109.3" r="2.1" fill="url(#gb)"/>
<circle cx="469.9" cy="106.3" r="2" fill="url(#go)"/>
<circle cx="477.4" cy="109.5" r="2" fill="url(#go)"/>
<circle cx="444.8" cy="120.3" r="2.25" fill="url(#gy)"/>
<circle cx="448.5" cy="121.8" r="2" fill="url(#go)"/>
<circle cx="452.1" cy="123.5" r="2.25" fill="url(#gy)"/>
<circle cx="457.2" cy="119.3" r="2" fill="url(#go)"/>
<circle cx="464.7" cy="122.5" r="2" fill="url(#go)"/>
<circle cx="469.7" cy="118.4" r="2.25" fill="url(#gy)"/>
<circle cx="473.4" cy="120.1" r="2" fill="url(#go)"/>
<circle cx="477.2" cy="121.7" r="2.25" fill="url(#gy)"/>
<circle cx="445" cy="132.8" r="2" fill="url(#go)"/>
<circle cx="452.5" cy="135.9" r="2" fill="url(#go)"/>
<circle cx="461.1" cy="134" r="2.1" fill="url(#gb)"/>
<circle cx="469.9" cy="131" r="2" fill="url(#go)"/>
<circle cx="477.4" cy="134.2" r="2" fill="url(#go)"/>
<circle cx="444.8" cy="145.4" r="2.25" fill="url(#gy)"/>
<circle cx="448.5" cy="146.9" r="2" fill="url(#go)"/>
<circle cx="452.1" cy="148.6" r="2.25" fill="url(#gy)"/>
<circle cx="457.2" cy="144.4" r="2" fill="url(#go)"/>
<circle cx="464.7" cy="147.6" r="2" fill="url(#go)"/>
<circle cx="469.7" cy="143.5" r="2.25" fill="url(#gy)"/>
<circle cx="473.4" cy="145.2" r="2" fill="url(#go)"/>
<circle cx="477.2" cy="146.8" r="2.25" fill="url(#gy)"/>
<circle cx="444.5" cy="186.7" r="2.7" fill="url(#gy)"/>
<circle cx="447" cy="189.35" r="2.4" fill="url(#go)"/>
<circle cx="449.5" cy="192" r="2.7" fill="url(#gy)"/>
<circle cx="462.4" cy="186.7" r="2.4" fill="url(#go)"/>
<circle cx="467.4" cy="192" r="2.4" fill="url(#go)"/>
<circle cx="444.5" cy="204.45" r="2.4" fill="url(#go)"/>
<circle cx="449.5" cy="209.75" r="2.4" fill="url(#go)"/>
<circle cx="464.9" cy="207.1" r="2.8" fill="url(#gb)"/>
<circle cx="480.3" cy="186.7" r="2.7" fill="url(#gy)"/>
<circle cx="482.8" cy="189.35" r="2.4" fill="url(#go)"/>
<circle cx="485.3" cy="192" r="2.7" fill="url(#gy)"/>
<circle cx="480.3" cy="204.45" r="2.4" fill="url(#go)"/>
<circle cx="485.3" cy="209.75" r="2.4" fill="url(#go)"/>
<circle cx="444.5" cy="222.2" r="2.7" fill="url(#gy)"/>
<circle cx="447" cy="224.85" r="2.4" fill="url(#go)"/>
<circle cx="449.5" cy="227.5" r="2.7" fill="url(#gy)"/>
<circle cx="462.4" cy="222.2" r="2.4" fill="url(#go)"/>
<circle cx="467.4" cy="227.5" r="2.4" fill="url(#go)"/>
<circle cx="480.3" cy="222.2" r="2.7" fill="url(#gy)"/>
<circle cx="482.8" cy="224.85" r="2.4" fill="url(#go)"/>
<circle cx="485.3" cy="227.5" r="2.7" fill="url(#gy)"/>
<circle cx="64" cy="199.8" r="2.4" fill="url(#gy)"/>
<circle cx="67.4" cy="202.4" r="2" fill="url(#go)"/>
<circle cx="71.3" cy="205" r="2.4" fill="url(#gy)"/>
<circle cx="79.3" cy="198.5" r="2" fill="url(#go)"/>
<circle cx="86.6" cy="203.9" r="2" fill="url(#go)"/>
<circle cx="94.6" cy="197.9" r="2.4" fill="url(#gy)"/>
<circle cx="98" cy="200.5" r="2" fill="url(#go)"/>
<circle cx="101.9" cy="203.1" r="2.4" fill="url(#gy)"/>
<circle cx="64.5" cy="215.1" r="2" fill="url(#go)"/>
<circle cx="71.6" cy="220.4" r="2" fill="url(#go)"/>
<circle cx="83.3" cy="216.3" r="2.3" fill="url(#gb)"/>
<circle cx="94.6" cy="213.5" r="2" fill="url(#go)"/>
<circle cx="102.2" cy="218.8" r="2" fill="url(#go)"/>
<circle cx="64.5" cy="230.1" r="2.4" fill="url(#gy)"/>
<circle cx="68" cy="232.8" r="2" fill="url(#go)"/>
<circle cx="71.6" cy="235.6" r="2.4" fill="url(#gy)"/>
<circle cx="79.6" cy="229.1" r="2" fill="url(#go)"/>
<circle cx="87.1" cy="234" r="2" fill="url(#go)"/>
<circle cx="94.6" cy="228.5" r="2.4" fill="url(#gy)"/>
<circle cx="98.5" cy="231.2" r="2" fill="url(#go)"/>
<circle cx="102.2" cy="233.6" r="2.4" fill="url(#gy)"/>
<circle cx="167.8" cy="188.3" r="1.9" fill="url(#gy)"/>
<circle cx="170.3" cy="190" r="1.7" fill="url(#go)"/>
<circle cx="172.8" cy="191.7" r="1.9" fill="url(#gy)"/>
<circle cx="189.6" cy="189.7" r="2" fill="url(#gb)"/>
<circle cx="205.9" cy="187.5" r="1.9" fill="url(#gy)"/>
<circle cx="208.7" cy="189.2" r="1.7" fill="url(#go)"/>
<circle cx="211.4" cy="190.9" r="1.9" fill="url(#gy)"/>
<circle cx="177.8" cy="197.8" r="1.7" fill="url(#go)"/>
<circle cx="182.7" cy="201.2" r="1.7" fill="url(#go)"/>
<circle cx="196.7" cy="197.6" r="1.7" fill="url(#go)"/>
<circle cx="201.9" cy="200.9" r="1.7" fill="url(#go)"/>
<circle cx="170.4" cy="209.3" r="2" fill="url(#gb)"/>
<circle cx="186.9" cy="207.2" r="1.9" fill="url(#gy)"/>
<circle cx="189.5" cy="208.9" r="1.7" fill="url(#go)"/>
<circle cx="192.2" cy="210.6" r="1.9" fill="url(#gy)"/>
<circle cx="208.8" cy="208.7" r="2" fill="url(#gb)"/>
<circle cx="177.4" cy="217.2" r="1.7" fill="url(#go)"/>
<circle cx="182.6" cy="220.5" r="1.7" fill="url(#go)"/>
<circle cx="196.8" cy="216.6" r="1.7" fill="url(#go)"/>
<circle cx="201.5" cy="220.1" r="1.7" fill="url(#go)"/>
<circle cx="168" cy="227" r="1.9" fill="url(#gy)"/>
<circle cx="170.4" cy="228.8" r="1.7" fill="url(#go)"/>
<circle cx="172.9" cy="230.5" r="1.9" fill="url(#gy)"/>
<circle cx="189.4" cy="227.9" r="2" fill="url(#gb)"/>
<circle cx="206.2" cy="225.9" r="1.9" fill="url(#gy)"/>
<circle cx="208.8" cy="227.9" r="1.7" fill="url(#go)"/>
<circle cx="211.4" cy="229.8" r="1.9" fill="url(#gy)"/>
<circle cx="293.4" cy="172.7" r="1.95" fill="url(#gy)"/>
<circle cx="295.6" cy="173.8" r="1.65" fill="url(#go)"/>
<circle cx="297.8" cy="174.9" r="1.95" fill="url(#gy)"/>
<circle cx="304.05" cy="172.7" r="1.65" fill="url(#go)"/>
<circle cx="308.45" cy="174.9" r="1.65" fill="url(#go)"/>
<circle cx="293.4" cy="183.2" r="1.65" fill="url(#go)"/>
<circle cx="297.8" cy="185.4" r="1.65" fill="url(#go)"/>
<circle cx="306.25" cy="184.3" r="1.75" fill="url(#gb)"/>
<circle cx="314.7" cy="172.7" r="1.95" fill="url(#gy)"/>
<circle cx="316.9" cy="173.8" r="1.65" fill="url(#go)"/>
<circle cx="319.1" cy="174.9" r="1.95" fill="url(#gy)"/>
<circle cx="314.7" cy="183.2" r="1.65" fill="url(#go)"/>
<circle cx="319.1" cy="185.4" r="1.65" fill="url(#go)"/>
<circle cx="293.4" cy="193.7" r="1.95" fill="url(#gy)"/>
<circle cx="295.6" cy="194.8" r="1.65" fill="url(#go)"/>
<circle cx="297.8" cy="195.9" r="1.95" fill="url(#gy)"/>
<circle cx="304.05" cy="193.7" r="1.65" fill="url(#go)"/>
<circle cx="308.45" cy="195.9" r="1.65" fill="url(#go)"/>
<circle cx="293.4" cy="204.3" r="1.65" fill="url(#go)"/>
<circle cx="297.8" cy="206.5" r="1.65" fill="url(#go)"/>
<circle cx="306.25" cy="205.4" r="1.75" fill="url(#gb)"/>
<circle cx="314.7" cy="193.7" r="1.95" fill="url(#gy)"/>
<circle cx="316.9" cy="194.8" r="1.65" fill="url(#go)"/>
<circle cx="319.1" cy="195.9" r="1.95" fill="url(#gy)"/>
<circle cx="314.7" cy="204.3" r="1.65" fill="url(#go)"/>
<circle cx="319.1" cy="206.5" r="1.65" fill="url(#go)"/>
<circle cx="293.4" cy="214.9" r="1.95" fill="url(#gy)"/>
<circle cx="295.6" cy="216" r="1.65" fill="url(#go)"/>
<circle cx="297.8" cy="217.1" r="1.95" fill="url(#gy)"/>
<circle cx="304.05" cy="214.9" r="1.65" fill="url(#go)"/>
<circle cx="308.45" cy="217.1" r="1.65" fill="url(#go)"/>
<circle cx="293.4" cy="225.2" r="1.65" fill="url(#go)"/>
<circle cx="297.8" cy="227.4" r="1.65" fill="url(#go)"/>
<circle cx="306.25" cy="226.3" r="1.75" fill="url(#gb)"/>
<circle cx="314.7" cy="214.9" r="1.95" fill="url(#gy)"/>
<circle cx="316.9" cy="216" r="1.65" fill="url(#go)"/>
<circle cx="319.1" cy="217.1" r="1.95" fill="url(#gy)"/>
<circle cx="314.7" cy="225.2" r="1.65" fill="url(#go)"/>
<circle cx="319.1" cy="227.4" r="1.65" fill="url(#go)"/>
<circle cx="293.4" cy="235.5" r="1.95" fill="url(#gy)"/>
<circle cx="295.6" cy="236.6" r="1.65" fill="url(#go)"/>
<circle cx="297.8" cy="237.7" r="1.95" fill="url(#gy)"/>
<circle cx="304.05" cy="235.5" r="1.65" fill="url(#go)"/>
<circle cx="308.45" cy="237.7" r="1.65" fill="url(#go)"/>
<circle cx="314.7" cy="235.5" r="1.95" fill="url(#gy)"/>
<circle cx="316.9" cy="236.6" r="1.65" fill="url(#go)"/>
<circle cx="319.1" cy="237.7" r="1.95" fill="url(#gy)"/>
<path d="M160 123h5.4M162.7 120.3v5.4M160 230.3h5.4M162.7 227.6v5.4M215.5 102.1h5.4M218.2 99.4v5.4M215.5 103.7h5.4M218.2 101v5.4M215.5 137.5h5.4M218.2 134.8v5.4M215.5 150.5h5.4M218.2 147.8v5.4M215.5 185.7h5.4M218.2 183v5.4M270.5 131.5h5.4M273.2 128.8v5.4M289.1 158.6h5.4M291.8 155.9v5.4M289.1 160.8h5.4M291.8 158.1v5.4M325.5 87.4h5.4M328.2 84.7v5.4M325.5 89h5.4M328.2 86.3v5.4M325.5 114.1h5.4M328.2 111.4v5.4M325.5 130.2h5.4M328.2 127.5v5.4M325.5 152.9h5.4M328.2 150.2v5.4M362.5 138.9h5.4M365.2 136.2v5.4M362.5 158.2h5.4M365.2 155.5v5.4M380.7 60.3h5.4M383.4 57.6v5.4M380.7 77.3h5.4M383.4 74.6v5.4M380.7 78.9h5.4M383.4 76.2v5.4M380.7 230.6h5.4M383.4 227.9v5.4M436.1 94.7h5.4M438.8 92v5.4M436.1 96.8h5.4M438.8 94.1v5.4M436.1 188.1h5.4M438.8 185.4v5.4M490.8 122.4h5.4M493.5 119.7v5.4M490.8 202.7h5.4M493.5 200v5.4M490.8 204.5h5.4M493.5 201.8v5.4M490.8 243.9h5.4M493.5 241.2v5.4M490.8 247.5h5.4M493.5 244.8v5.4M509.6 156.3h5.4M512.3 153.6v5.4" stroke="#239323" stroke-width="1.35" fill="none"/>
<line x1="174" y1="69.6" x2="211.8" y2="110.1" stroke="#3b6fd6" stroke-width="1.2" marker-end="url(#ah)"/>
<line x1="247.6" y1="76.3" x2="271.6" y2="125.1" stroke="#3b6fd6" stroke-width="1.2" marker-end="url(#ah)"/>
<line x1="316.4" y1="60.5" x2="294.2" y2="149.3" stroke="#3b6fd6" stroke-width="1.2" marker-end="url(#ah)"/>
<line x1="352" y1="90.8" x2="333.1" y2="127" stroke="#3b6fd6" stroke-width="1.2" marker-end="url(#ah)"/>
<line x1="404.4" y1="143.2" x2="389.2" y2="177.5" stroke="#3b6fd6" stroke-width="1.2" marker-end="url(#ah)"/>
<line x1="482.6" y1="101.4" x2="492.7" y2="121.3" stroke="#3b6fd6" stroke-width="1.2" marker-end="url(#ah)"/>
<line x1="322.6" y1="174.6" x2="358.5" y2="158.7" stroke="#3b6fd6" stroke-width="1.2" marker-end="url(#ah)"/>
<line x1="486" y1="229.7" x2="522" y2="252.3" stroke="#3b6fd6" stroke-width="1.2" marker-end="url(#ah)"/>
<line x1="64" y1="233.8" x2="47.8" y2="249.8" stroke="#3b6fd6" stroke-width="1.2" marker-end="url(#ah)"/>
<line x1="132.4" y1="171" x2="161.5" y2="232.3" stroke="#3b6fd6" stroke-width="1.2" marker-end="url(#ah)"/>
<line x1="192.5" y1="182.5" x2="213.9" y2="148.6" stroke="#3b6fd6" stroke-width="1.2" marker-end="url(#ah)"/>
<path d="M41.2 254V3.0H524V254" stroke="#222" stroke-width="1.7" fill="none"/>
<line x1="41" y1="254.8" x2="524" y2="254.8" stroke="#333" stroke-width="1"/>
<line x1="41" y1="253.7" x2="524" y2="253.7" stroke="#cc0000" stroke-width="2"/>
<circle cx="41.2" cy="253.7" r="1.6" fill="#1a9a1a"/><circle cx="524.3" cy="253.4" r="1.8" fill="#1a9a1a"/>
<line x1="35.2" y1="70.7" x2="41.2" y2="70.7" stroke="#222" stroke-width="1.3"/>
<text x="33.8" y="74.1" font-size="10" text-anchor="end">32</text>
<line x1="35.2" y1="119" x2="41.2" y2="119" stroke="#222" stroke-width="1.3"/>
<text x="33.8" y="122.4" font-size="10" text-anchor="end">24</text>
<line x1="35.2" y1="168.2" x2="41.2" y2="168.2" stroke="#222" stroke-width="1.3"/>
<text x="33.8" y="171.6" font-size="10" text-anchor="end">16</text>
<line x1="35.2" y1="216.4" x2="41.2" y2="216.4" stroke="#222" stroke-width="1.3"/>
<text x="33.8" y="219.8" font-size="10" text-anchor="end">8</text>
<line x1="70.9" y1="254.5" x2="70.9" y2="261.5" stroke="#222" stroke-width="1.4"/>
<text x="72.8" y="273.8" font-size="10" text-anchor="middle">0.1</text>
<line x1="119.6" y1="254.5" x2="119.6" y2="261.5" stroke="#222" stroke-width="1.4"/>
<text x="121.5" y="273.8" font-size="10" text-anchor="middle">0.2</text>
<line x1="170.4" y1="254.5" x2="170.4" y2="261.5" stroke="#222" stroke-width="1.4"/>
<text x="172.3" y="273.8" font-size="10" text-anchor="middle">0.3</text>
<line x1="219.5" y1="254.5" x2="219.5" y2="261.5" stroke="#222" stroke-width="1.4"/>
<text x="221.4" y="273.8" font-size="10" text-anchor="middle">0.4</text>
<line x1="270" y1="254.5" x2="270" y2="261.5" stroke="#222" stroke-width="1.4"/>
<text x="271.9" y="273.8" font-size="10" text-anchor="middle">0.5</text>
<line x1="319.5" y1="254.5" x2="319.5" y2="261.5" stroke="#222" stroke-width="1.4"/>
<text x="321.4" y="273.8" font-size="10" text-anchor="middle">0.6</text>
<line x1="369.5" y1="254.5" x2="369.5" y2="261.5" stroke="#222" stroke-width="1.4"/>
<text x="371.4" y="273.8" font-size="10" text-anchor="middle">0.7</text>
<line x1="419.6" y1="254.5" x2="419.6" y2="261.5" stroke="#222" stroke-width="1.4"/>
<text x="421.5" y="273.8" font-size="10" text-anchor="middle">0.8</text>
<line x1="469.5" y1="254.5" x2="469.5" y2="261.5" stroke="#222" stroke-width="1.4"/>
<text x="471.4" y="273.8" font-size="10" text-anchor="middle">0.9</text>
<text x="23.7" y="274" font-size="10.2">CsPbI<tspan font-size="7" dy="2">3</tspan></text>
<text x="511.8" y="273.3" font-size="10.2">CsPbBr<tspan font-size="7" dy="2">3</tspan></text>
<text transform="translate(13.7,120) rotate(-90)" font-size="13.5" text-anchor="middle">DHf (meV/atom)</text>
<text x="54.1" y="20.1" font-size="10">Cs<tspan font-size="6.8" dy="2.3">3</tspan><tspan dy="-2.3">Pb</tspan><tspan font-size="6.8" dy="2.3">3</tspan><tspan dy="-2.3">I</tspan><tspan font-size="6.8" dy="2.3">5</tspan><tspan dy="-2.3">Br</tspan><tspan font-size="6.8" dy="2.3">4</tspan></text>
<text x="134.9" y="15.8" font-size="10.12">Cs<tspan font-size="6.88" dy="2.3">3</tspan><tspan dy="-2.3">Pb</tspan><tspan font-size="6.88" dy="2.3">3</tspan><tspan dy="-2.3">I</tspan><tspan font-size="6.88" dy="2.3">4</tspan><tspan dy="-2.3">Br</tspan><tspan font-size="6.88" dy="2.3">5</tspan></text>
<text x="217.6" y="12.6" font-size="10.2">Cs<tspan font-size="6.94" dy="2.3">2</tspan><tspan dy="-2.3">Pb</tspan><tspan font-size="6.94" dy="2.3">2</tspan><tspan dy="-2.3">I</tspan><tspan font-size="6.94" dy="2.3">3</tspan><tspan dy="-2.3">Br</tspan><tspan font-size="6.94" dy="2.3">3</tspan></text>
<text x="344.9" y="16.4" font-size="10.2">Cs<tspan font-size="6.94" dy="2.3">4</tspan><tspan dy="-2.3">Pb</tspan><tspan font-size="6.94" dy="2.3">4</tspan><tspan dy="-2.3">I</tspan><tspan font-size="6.94" dy="2.3">7</tspan><tspan dy="-2.3">Br</tspan><tspan font-size="6.94" dy="2.3">5</tspan></text>
<text x="346.9" y="43" font-size="9.95">(CsPbI<tspan font-size="6.77" dy="2.3">2</tspan><tspan dy="-2.3">Br)</tspan><tspan font-size="6.77" dy="2.3">4</tspan></text>
<text x="386.9" y="68.8" font-size="10.2">Cs<tspan font-size="6.94" dy="2.3">4</tspan><tspan dy="-2.3">Pb</tspan><tspan font-size="6.94" dy="2.3">4</tspan><tspan dy="-2.3">I</tspan><tspan font-size="6.94" dy="2.3">9</tspan><tspan dy="-2.3">Br</tspan><tspan font-size="6.94" dy="2.3">3</tspan></text>
<text x="445.2" y="62.2" font-size="10.1">Cs<tspan font-size="6.87" dy="2.3">3</tspan><tspan dy="-2.3">Pb</tspan><tspan font-size="6.87" dy="2.3">3</tspan><tspan dy="-2.3">IBr</tspan><tspan font-size="6.87" dy="2.3">8</tspan></text>
<text x="79.6" y="92.2" font-size="10.3">Cs<tspan font-size="7" dy="2.3">4</tspan><tspan dy="-2.3">Pb</tspan><tspan font-size="7" dy="2.3">4</tspan><tspan dy="-2.3">I</tspan><tspan font-size="7" dy="2.3">3</tspan><tspan dy="-2.3">Br</tspan><tspan font-size="7" dy="2.3">9</tspan></text>
<text x="170.9" y="244.3" font-size="9.95">Cs<tspan font-size="6.77" dy="2.3">2</tspan><tspan dy="-2.3">Pb</tspan><tspan font-size="6.77" dy="2.3">2</tspan><tspan dy="-2.3">I</tspan><tspan font-size="6.77" dy="2.3">5</tspan><tspan dy="-2.3">Br</tspan></text>
<text x="276.2" y="249" font-size="10.2">(CsPbIBr<tspan font-size="6.94" dy="2.3">2</tspan><tspan dy="-2.3">)</tspan><tspan font-size="6.94" dy="2.3">4</tspan></text>
<rect x="415.6" y="5.5" width="106.6" height="46.2" fill="#fff" stroke="#222" stroke-width="1"/>
<path d="M420.6 10.9h5M423.1 8.4v5" stroke="#8a8a8a" stroke-width="1"/>
<rect x="420.9" y="19.0" width="4.4" height="4.4" stroke="#1f8a1f" stroke-width="1.4" fill="#fff"/>
<path d="M420.1 30.9h6M423.1 27.9v6" stroke="#1f9a1f" stroke-width="1.6"/>
<line x1="420.5" y1="40.8" x2="427.9" y2="40.8" stroke="#f07070" stroke-width="1"/>
<text x="432.9" y="14.2" font-size="8.1" style="stroke-width:0.12px">CE predictions</text>
<text x="432.9" y="24.1" font-size="8.1" style="stroke-width:0.12px">training-set: DFT inputs</text>
<text x="432.9" y="33.8" font-size="8.1" style="stroke-width:0.12px">training-set: CE predictions</text>
<text x="432.9" y="43.4" font-size="8.1" style="stroke-width:0.12px">DFT ground-state line</text>
</svg></body></html>
